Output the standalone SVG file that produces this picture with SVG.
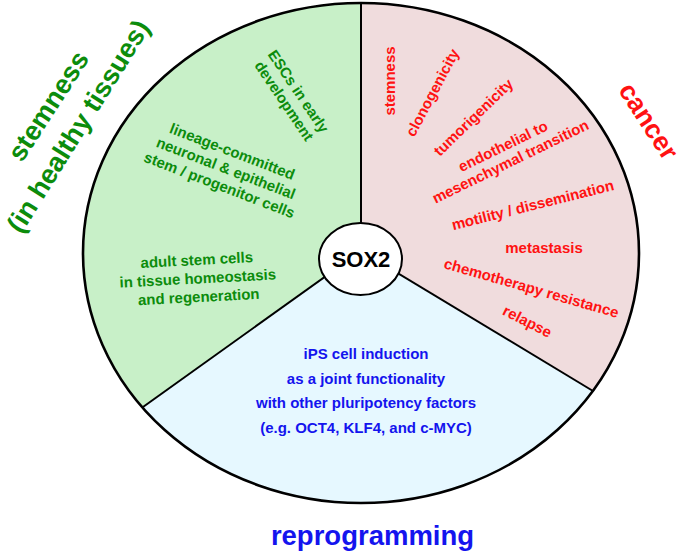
<svg xmlns="http://www.w3.org/2000/svg" width="685" height="554" viewBox="0 0 685 554">
<style>
text{font-family:"Liberation Sans",Arial,sans-serif;font-weight:bold;}
.g{fill:#0c8c0c;}
.r{fill:#ff1212;}
.b{fill:#1414ee;}
.big{font-size:27px;}
.sm{font-size:15px;}
.div{stroke:#000;stroke-width:2;fill:none;}
</style>
<rect width="685" height="554" fill="#fff"/>
<g id="sector-reprogramming"><path d="M361,251 L593,391 A278,250 0 0 1 143,407 Z" fill="#e6f8ff"/></g>
<g id="sector-stemness"><path d="M361,251 L361,3 A278,250 0 0 0 143,407 Z" fill="#c8f0c8"/></g>
<g id="sector-cancer"><path d="M361,251 L361,3 A278,250 0 0 1 593,391 Z" fill="#f0dcdd"/></g>
<g id="connectors">
<line class="div" x1="361" y1="251" x2="361" y2="3"/>
<line class="div" x1="361" y1="251" x2="143" y2="407"/>
<line class="div" x1="361" y1="251" x2="593" y2="391"/>
</g>
<g id="outline"><ellipse cx="361" cy="253" rx="278" ry="250" fill="none" stroke="#000" stroke-width="2.6"/></g>
<g id="node-sox2">
<ellipse cx="360.5" cy="259" rx="41.5" ry="36" fill="#fff" stroke="#000" stroke-width="2"/>
<text x="361" y="267" font-size="22" text-anchor="middle" fill="#000">SOX2</text>
</g>
<g id="label-stemness">
<text class="g big" text-anchor="middle" transform="translate(56,111) rotate(-57)">stemness</text>
<text class="g big" text-anchor="middle" transform="translate(86,131) rotate(-58)">(in healthy tissues)</text>
</g>
<g id="label-cancer"><text class="r" font-size="26.5" text-anchor="middle" transform="translate(641,126) rotate(57)">cancer</text></g>
<g id="label-reprogramming"><text class="b" font-size="27.5" x="372.5" y="545" text-anchor="middle">reprogramming</text></g>
<g id="stemness-items" text-anchor="middle">
<g transform="translate(287,99) rotate(56)">
<text class="g sm" y="-8.6">ESCs in early</text>
<text class="g sm" y="8.6">development</text>
</g>
<g transform="translate(224,173) rotate(21)">
<text class="g sm" y="-18">lineage-committed</text>
<text class="g sm" y="0">neuronal &amp; epithelial</text>
<text class="g sm" y="18">stem / progenitor cells</text>
</g>
<g transform="translate(198,283.5) rotate(-3)">
<text class="g sm" y="-18.5">adult stem cells</text>
<text class="g sm" y="0">in tissue homeostasis</text>
<text class="g sm" y="18.5">and regeneration</text>
</g>
</g>
<g id="cancer-items" text-anchor="middle">
<text class="r sm" transform="translate(395,81) rotate(-90)">stemness</text>
<text class="r sm" transform="translate(437,95) rotate(-62)">clonogenicity</text>
<text class="r sm" transform="translate(477,121) rotate(-44)">tumorigenicity</text>
<g transform="translate(509,158.5) rotate(-26)">
<text class="r sm" y="-8.5">endothelial to</text>
<text class="r sm" y="8.5">mesenchymal transition</text>
</g>
<text class="r sm" transform="translate(534,210) rotate(-14)">motility / dissemination</text>
<text class="r sm" x="544" y="253">metastasis</text>
<text class="r sm" transform="translate(530,293) rotate(16)">chemotherapy resistance</text>
<text class="r sm" transform="translate(525,326) rotate(27)">relapse</text>
</g>
<g id="reprogramming-items" text-anchor="middle">
<text class="b sm" x="366" y="359">iPS cell induction</text>
<text class="b sm" x="366" y="383.5">as a joint functionality</text>
<text class="b sm" x="366" y="408">with other pluripotency factors</text>
<text class="b sm" x="366" y="432.5">(e.g. OCT4, KLF4, and c-MYC)</text>
</g>
</svg>
